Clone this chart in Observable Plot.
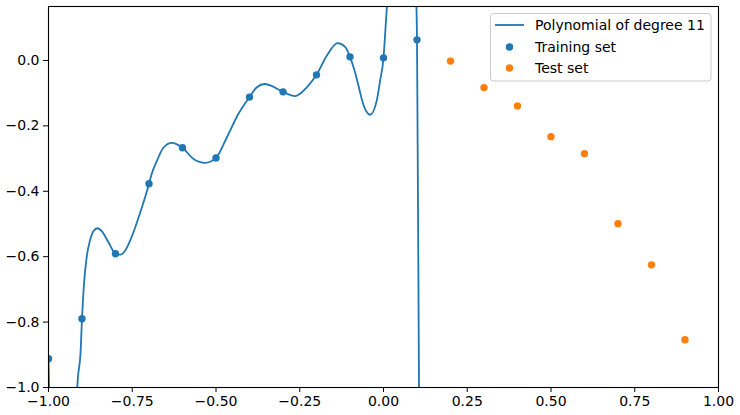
<!DOCTYPE html>
<html><head><meta charset="utf-8">
<script src="https://cdn.jsdelivr.net/npm/d3@7"></script>
<script src="https://cdn.jsdelivr.net/npm/@observablehq/plot@0.6"></script>
<style>body{margin:0;background:#fff;}</style>
</head><body><div id="chart"></div>
<script>
const trainX = [-1.0, -0.9, -0.8, -0.7, -0.6, -0.5, -0.4, -0.3, -0.2, -0.1, 0.0, 0.1];
const trainY = [-0.912, -0.790, -0.591, -0.377, -0.267, -0.298, -0.112, -0.096, -0.044, 0.011, 0.008, 0.063];
const testX = [0.2, 0.3, 0.4, 0.5, 0.6, 0.7, 0.8, 0.9];
const testY = [-0.002, -0.083, -0.139, -0.233, -0.285, -0.499, -0.625, -0.854];
// Polynomial curve (parts outside the axes are estimates, clipped)
const curveX = [-1.0, -0.99, -0.96, -0.93, -0.92, -0.914, -0.904, -0.9, -0.894, -0.886, -0.876, -0.866, -0.854, -0.841, -0.821, -0.8, -0.786, -0.771, -0.756, -0.741, -0.726, -0.713, -0.7, -0.692, -0.676, -0.657, -0.632, -0.6, -0.567, -0.532, -0.5, -0.467, -0.433, -0.4, -0.378, -0.355, -0.338, -0.3, -0.264, -0.229, -0.2, -0.169, -0.137, -0.114, -0.1, -0.085, -0.070, -0.064, -0.040, -0.020, -0.010, 0.0, 0.005, 0.010, 0.02, 0.04, 0.06, 0.08, 0.09, 0.096, 0.1, 0.103, 0.106, 0.11];
const curveY = [-0.912, -1.4, -2.2, -1.8, -1.3, -1.0, -0.887, -0.790, -0.683, -0.601, -0.550, -0.522, -0.513, -0.522, -0.556, -0.591, -0.594, -0.581, -0.550, -0.510, -0.464, -0.423, -0.377, -0.347, -0.306, -0.267, -0.252, -0.267, -0.301, -0.313, -0.298, -0.234, -0.163, -0.112, -0.082, -0.072, -0.076, -0.096, -0.109, -0.082, -0.044, 0.015, 0.053, 0.041, 0.011, -0.036, -0.097, -0.122, -0.166, -0.122, -0.061, 0.008, 0.082, 0.163, 0.35, 0.8, 1.0, 0.8, 0.55, 0.25, 0.063, -0.45, -1.0, -1.8];
const xTicks = [-1.0, -0.75, -0.5, -0.25, 0.0, 0.25, 0.5, 0.75, 1.0];
const yTicks = [-1.0, -0.8, -0.6, -0.4, -0.2, 0.0];
const legendLabels = ["Polynomial of degree 11", "Training set", "Test set"];
const blue = "#1f77b4", orange = "#ff7f0e";

const curve = curveX.map((x, i) => ({x, y: curveY[i]}));
const train = trainX.map((x, i) => ({x, y: trainY[i]}));
const test = testX.map((x, i) => ({x, y: testY[i]}));

const plot = Plot.plot({
  width: 740, height: 415,
  marginLeft: 48, marginRight: 22, marginTop: 6, marginBottom: 28,
  style: {fontFamily: "DejaVu Sans", fontSize: "14px", background: "white", color: "black"},
  x: {domain: [-1, 1], label: null},
  y: {domain: [-1, 0.165], label: null},
  marks: [
    Plot.line(curve, {x: "x", y: "y", stroke: blue, strokeWidth: 1.8, curve: "monotone-x", clip: true}),
    Plot.dot(train, {x: "x", y: "y", fill: blue, r: 3.7, clip: true}),
    Plot.dot(test, {x: "x", y: "y", fill: orange, r: 3.7, clip: true}),
    Plot.axisX({ticks: xTicks, tickFormat: d3.format(".2f"), tickSize: 5, tickPadding: 4, fontSize: 14, label: null}),
    Plot.axisY({ticks: yTicks, tickFormat: d3.format(".1f"), tickSize: 5, tickPadding: 4, fontSize: 14, label: null}),
    Plot.frame({stroke: "black", strokeWidth: 1.1})
  ]
});
document.getElementById("chart").append(plot);

// Legend inside the axes (upper right)
const svg = d3.select(plot);
const lg = svg.append("g").attr("font-family", "DejaVu Sans").attr("font-size", 14).attr("text-anchor", "start");
lg.append("rect").attr("x", 490.5).attr("y", 13.5).attr("width", 220.5).attr("height", 67.5)
  .attr("rx", 3).attr("fill", "white").attr("fill-opacity", 0.8).attr("stroke", "#cccccc");
const rowsY = [25, 47, 68];
lg.append("line").attr("x1", 495).attr("x2", 524).attr("y1", rowsY[0]).attr("y2", rowsY[0])
  .attr("stroke", blue).attr("stroke-width", 1.8);
lg.append("circle").attr("cx", 509.5).attr("cy", rowsY[1]).attr("r", 3.7).attr("fill", blue);
lg.append("circle").attr("cx", 509.5).attr("cy", rowsY[2]).attr("r", 3.7).attr("fill", orange);
legendLabels.forEach((t, i) => {
  lg.append("text").attr("x", 535).attr("y", rowsY[i]).attr("dy", "0.35em").attr("fill", "black").attr("text-anchor", "start").text(t);
});
</script>
</body></html>
